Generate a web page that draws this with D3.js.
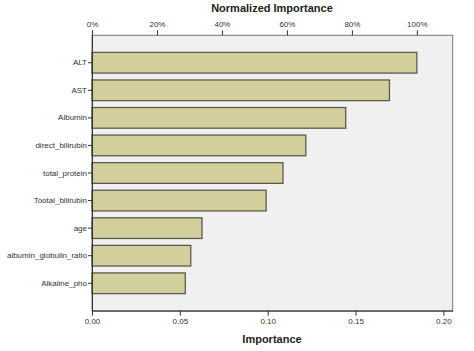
<!DOCTYPE html>
<html><head><meta charset="utf-8">
<script src="https://cdn.jsdelivr.net/npm/d3@7"></script>
<style>body{margin:0;background:#fff}svg{display:block}text{font-family:"Liberation Sans",Arial,sans-serif}</style>
</head><body>
<svg id="c" width="474" height="351"></svg>
<script>
const categories = ["ALT","AST","Albumin","direct_bilirubin","total_protein","Tootal_bilirubin","age","albumin_globulin_ratio","Alkaline_pho"];
const importance = [0.1849,0.1693,0.1444,0.1217,0.1087,0.0991,0.0626,0.0562,0.0531];
const bottomTicks = [0,0.05,0.10,0.15,0.20];
const topTicks = [0,0.2,0.4,0.6,0.8,1.0];

const svg = d3.select("#c");
const L=92, R=452.7, T=35.3, B=310.7;
const maxImp = d3.max(importance);
const x = d3.scaleLinear().domain([0,0.2053]).range([L,R]);
const xn = d3.scaleLinear().domain([0,0.2053/maxImp]).range([L,R]);
const y = d3.scaleBand().domain(categories).range([T,B]).paddingInner(0.25).paddingOuter(0.62);

svg.append("rect").attr("x",L).attr("y",T).attr("width",R-L).attr("height",B-T)
  .attr("fill","#f0f0f0").attr("stroke","#777").attr("stroke-width",1);

svg.selectAll(".bar").data(categories).enter().append("rect")
  .attr("x",x(0)).attr("y",d=>y(d))
  .attr("width",(d,i)=>x(importance[i])-x(0)).attr("height",y.bandwidth())
  .attr("fill","#d3cf9d").attr("stroke","#5b5b4c").attr("stroke-width",1.3);

function style(g){
  g.select(".domain").attr("stroke","#333");
  g.selectAll(".tick line").attr("stroke","#333");
  g.selectAll("text").attr("fill","#333").attr("font-size","8px");
}
svg.append("g").attr("transform",`translate(0,${B})`)
  .call(d3.axisBottom(x).tickValues(bottomTicks).tickFormat(d3.format(".2f")).tickSize(5).tickSizeOuter(0))
  .call(style);
svg.append("g").attr("transform",`translate(0,${T})`)
  .call(d3.axisTop(xn).tickValues(topTicks).tickFormat(d3.format(".0%")).tickSize(5).tickSizeOuter(0))
  .call(style).call(g=>g.select(".domain").remove());
svg.append("g").attr("transform",`translate(${L},0)`)
  .call(d3.axisLeft(y).tickSize(4).tickSizeOuter(0).tickPadding(1))
  .call(style);

svg.append("text").attr("x",272).attr("y",12).attr("text-anchor","middle")
  .attr("font-weight","bold").attr("font-size","11px").attr("fill","#222").text("Normalized Importance");
svg.append("text").attr("x",272).attr("y",343).attr("text-anchor","middle")
  .attr("font-weight","bold").attr("font-size","11px").attr("fill","#222").text("Importance");
</script>
</body></html>
